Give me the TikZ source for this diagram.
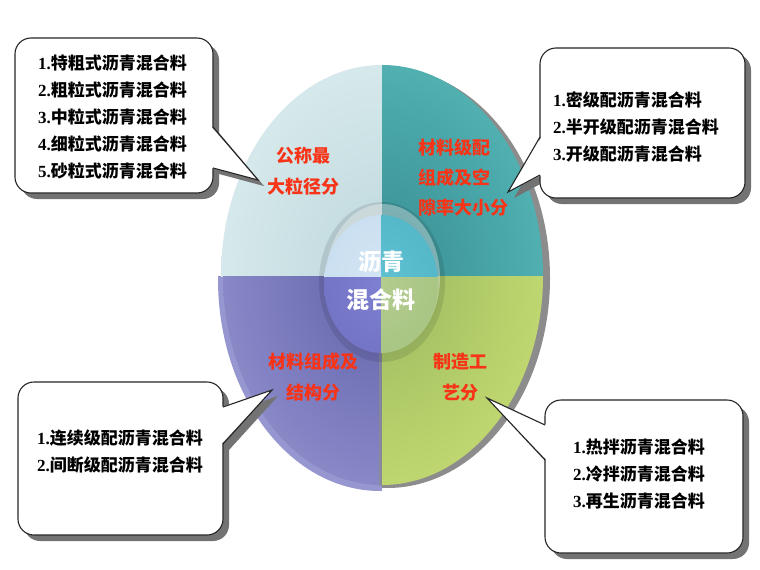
\documentclass[tikz,border=0pt]{standalone}
\usepackage{fontspec}
\newfontfamily\cjk{Noto Sans CJK SC}
\newfontfamily\serifdig{Liberation Serif}
\usetikzlibrary{calc,shadows}

\definecolor{labred}{RGB}{248,52,24}
\definecolor{rimgray}{RGB}{140,140,140}
\definecolor{blrim}{RGB}{150,150,208}

\pgfdeclareradialshading{shTL}{\pgfpoint{0bp}{0bp}}{rgb(0bp)=(0.74,0.84,0.86);rgb(20bp)=(0.82,0.90,0.91);rgb(34bp)=(0.87,0.93,0.94);rgb(46bp)=(0.80,0.89,0.90);rgb(50bp)=(0.64,0.75,0.78)}
\pgfdeclareradialshading{shTR}{\pgfpoint{0bp}{0bp}}{rgb(0bp)=(0.22,0.55,0.57);rgb(20bp)=(0.29,0.66,0.67);rgb(34bp)=(0.37,0.74,0.73);rgb(46bp)=(0.30,0.66,0.66);rgb(50bp)=(0.22,0.52,0.54)}
\pgfdeclareradialshading{shBL}{\pgfpoint{0bp}{0bp}}{rgb(0bp)=(0.38,0.38,0.66);rgb(20bp)=(0.50,0.50,0.76);rgb(34bp)=(0.60,0.60,0.82);rgb(46bp)=(0.53,0.53,0.77);rgb(50bp)=(0.40,0.40,0.64)}
\pgfdeclareradialshading{shBR}{\pgfpoint{0bp}{0bp}}{rgb(0bp)=(0.60,0.72,0.38);rgb(20bp)=(0.72,0.82,0.42);rgb(34bp)=(0.80,0.88,0.48);rgb(46bp)=(0.75,0.84,0.41);rgb(50bp)=(0.60,0.70,0.30)}
\pgfdeclareradialshading{shITL}{\pgfpoint{0bp}{0bp}}{rgb(0bp)=(0.83,0.90,0.96);rgb(40bp)=(0.77,0.86,0.93);rgb(50bp)=(0.68,0.78,0.88)}
\pgfdeclareradialshading{shITR}{\pgfpoint{0bp}{0bp}}{rgb(0bp)=(0.38,0.76,0.82);rgb(40bp)=(0.30,0.70,0.77);rgb(50bp)=(0.22,0.58,0.66)}
\pgfdeclareradialshading{shIBL}{\pgfpoint{0bp}{0bp}}{rgb(0bp)=(0.50,0.50,0.82);rgb(40bp)=(0.43,0.43,0.75);rgb(50bp)=(0.34,0.34,0.64)}
\pgfdeclareradialshading{shIBR}{\pgfpoint{0bp}{0bp}}{rgb(0bp)=(0.70,0.80,0.56);rgb(40bp)=(0.64,0.76,0.49);rgb(50bp)=(0.54,0.67,0.40)}

\begin{document}
\begin{tikzpicture}[x=1pt,y=-1pt,
  callbox/.style={draw=black!85,line width=1.1pt,fill=white,rounded corners=16pt,inner sep=0pt,
     drop shadow={shadow xshift=6pt,shadow yshift=-6pt,fill=black!55,opacity=1}},
  ptr/.style={draw=black!85,line width=1.1pt,line join=miter},
  ptrshadow/.style={fill=black!55},
  itemtext/.style={font=\cjk\bfseries\fontsize{17}{27}\selectfont,align=left,anchor=west,inner sep=0pt},
  lab/.style={font=\cjk\bfseries\fontsize{18}{31}\selectfont,text=labred,align=center,inner sep=0pt},
]
\useasboundingbox (0,0) rectangle (760,570);
\fill[white] (0,0) rectangle (760,570);
\coordinate (c) at (382,276);
\coordinate (ic) at (381,284);

% rims
\fill[rimgray] (387,278) ellipse [x radius=163, y radius=210];
\begin{scope}
  \clip (0,276) rectangle (382,570);
  \fill[blrim] (380,279) ellipse [x radius=162, y radius=212];
\end{scope}

% quadrants of the ring
\begin{scope}\clip (c) rectangle (0,0);
  \shade[shading=shTL] (c) ellipse [x radius=161, y radius=211];\end{scope}
\begin{scope}\clip (c) rectangle (760,0);
  \shade[shading=shTR] (c) ellipse [x radius=161, y radius=211];\end{scope}
\begin{scope}\clip (c) rectangle (0,570);
  \shade[shading=shBL] (c) ellipse [x radius=159, y radius=209];\end{scope}
\begin{scope}\clip (c) rectangle (760,570);
  \shade[shading=shBR] (c) ellipse [x radius=161, y radius=209];\end{scope}
\draw[black!45,line width=3pt,opacity=.7] (380,278) -- (380,486);

% inner disc: darker halo, lighter lid rim, then the disc
\fill[black,opacity=.10] (382,282) ellipse [x radius=63, y radius=80];
\fill[white,opacity=.35] (383,278) ellipse [x radius=57, y radius=74];
\begin{scope}\clip (ic) rectangle (0,0);
  \shade[shading=shITL] (ic) ellipse [x radius=57, y radius=69];\end{scope}
\begin{scope}\clip (ic) rectangle (760,0);
  \shade[shading=shITR] (ic) ellipse [x radius=57, y radius=69];\end{scope}
\begin{scope}\clip (381,277) rectangle (0,570);
  \shade[shading=shIBL] (ic) ellipse [x radius=57, y radius=69];\end{scope}
\begin{scope}\clip (381,277) rectangle (760,570);
  \shade[shading=shIBR] (ic) ellipse [x radius=57, y radius=69];\end{scope}

% labels on the disc
\node[lab] (l1) at (303,171) {公称最\\大粒径分};
\node[lab,align=left,anchor=west,font=\cjk\bfseries\fontsize{18}{30}\selectfont] (l2) at (418,178) {材料级配\\组成及空\\隙率大小分};
\node[lab] (l3) at (313,377) {材料组成及\\结构分};
\node[lab] (l4) at (460,377) {制造工\\艺分};
\node[font=\cjk\bfseries\fontsize{23}{38}\selectfont,text=white,align=center,inner sep=0pt] (ctr) at (381,281) {沥青\\混合料};

% ---- callout top-left
\coordinate (tlp1) at (213,127); \coordinate (tltip) at (258,180); \coordinate (tlp2) at (213,168);
\fill[ptrshadow] ($(tlp1)+(6,6)$) -- ($(tltip)+(6,6)$) -- ($(tlp2)+(6,6)$) -- cycle;
\node[callbox,minimum width=198pt,minimum height=155pt] (tl) at (114,115.5) {};
\fill[white] ($(tlp1)+(-1.5,0)$) -- (tltip) -- ($(tlp2)+(-1.5,0)$) -- cycle;
\draw[ptr] (tlp1) -- (tltip) -- (tlp2);
\node[itemtext] (tlt) at (38,117.5) {{\serifdig 1.}特粗式沥青混合料\\{\serifdig 2.}粗粒式沥青混合料\\{\serifdig 3.}中粒式沥青混合料\\{\serifdig 4.}细粒式沥青混合料\\{\serifdig 5.}砂粒式沥青混合料};

% ---- callout top-right
\coordinate (trp1) at (540,137); \coordinate (trtip) at (508,192); \coordinate (trp2) at (540,175);
\fill[ptrshadow] ($(trp1)+(6,6)$) -- ($(trtip)+(6,6)$) -- ($(trp2)+(6,6)$) -- cycle;
\node[callbox,minimum width=205pt,minimum height=150pt] (tr) at (642.5,123) {};
\fill[white] ($(trp1)+(1.5,0)$) -- (trtip) -- ($(trp2)+(1.5,0)$) -- cycle;
\draw[ptr] (trp1) -- (trtip) -- (trp2);
\node[itemtext] (trt) at (553,126.5) {{\serifdig 1.}密级配沥青混合料\\{\serifdig 2.}半开级配沥青混合料\\{\serifdig 3.}开级配沥青混合料};

% ---- callout bottom-left
\coordinate (blp1) at (223,407); \coordinate (bltip) at (272,390); \coordinate (blp2) at (223,444);
\fill[ptrshadow] ($(blp1)+(6,6)$) -- ($(bltip)+(6,6)$) -- ($(blp2)+(6,6)$) -- cycle;
\node[callbox,minimum width=205pt,minimum height=153pt] (bl) at (120.5,458.5) {};
\fill[white] ($(blp1)+(-1.5,0)$) -- (bltip) -- ($(blp2)+(-1.5,0)$) -- cycle;
\draw[ptr] (blp1) -- (bltip) -- (blp2);
\node[itemtext] (blt) at (37,452) {{\serifdig 1.}连续级配沥青混合料\\{\serifdig 2.}间断级配沥青混合料};

% ---- callout bottom-right
\coordinate (brp1) at (545,425); \coordinate (brtip) at (487,398); \coordinate (brp2) at (545,460);
\fill[ptrshadow] ($(brp1)+(6,6)$) -- ($(brtip)+(6,6)$) -- ($(brp2)+(6,6)$) -- cycle;
\node[callbox,minimum width=198pt,minimum height=153pt] (br) at (644,476.5) {};
\fill[white] ($(brp1)+(1.5,0)$) -- (brtip) -- ($(brp2)+(1.5,0)$) -- cycle;
\draw[ptr] (brp1) -- (brtip) -- (brp2);
\node[itemtext] (brt) at (573,474) {{\serifdig 1.}热拌沥青混合料\\{\serifdig 2.}冷拌沥青混合料\\{\serifdig 3.}再生沥青混合料};
\end{tikzpicture}
\end{document}
